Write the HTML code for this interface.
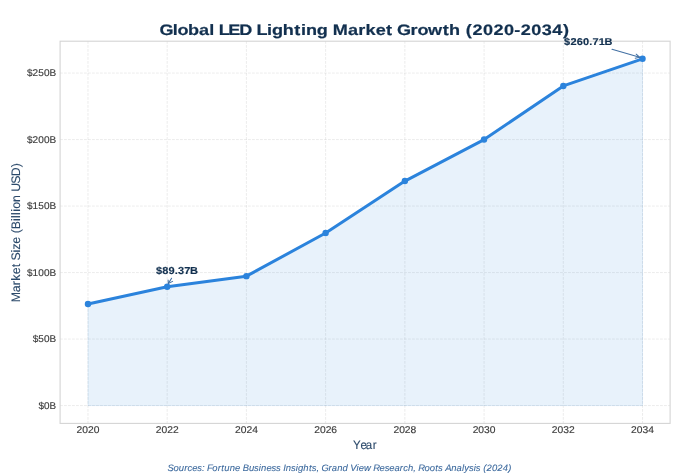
<!DOCTYPE html>
<html><head><meta charset="utf-8"><style>
html,body{margin:0;padding:0;background:#fff;}
svg{display:block;will-change:transform;}
text{font-family:"Liberation Sans",sans-serif;text-rendering:geometricPrecision;}
</style></head><body>
<svg width="680" height="476" viewBox="0 0 680 476">
<rect width="680" height="476" fill="#fff"/>
<g stroke="#b0b0b0" stroke-opacity="0.3" stroke-width="0.8" stroke-dasharray="2.8 1.2"><line x1="87.98" y1="41" x2="87.98" y2="423"/><line x1="167.20" y1="41" x2="167.20" y2="423"/><line x1="246.42" y1="41" x2="246.42" y2="423"/><line x1="325.64" y1="41" x2="325.64" y2="423"/><line x1="404.86" y1="41" x2="404.86" y2="423"/><line x1="484.08" y1="41" x2="484.08" y2="423"/><line x1="563.30" y1="41" x2="563.30" y2="423"/><line x1="642.52" y1="41" x2="642.52" y2="423"/><line x1="60" y1="405.55" x2="670" y2="405.55"/><line x1="60" y1="339.05" x2="670" y2="339.05"/><line x1="60" y1="272.55" x2="670" y2="272.55"/><line x1="60" y1="206.05" x2="670" y2="206.05"/><line x1="60" y1="139.55" x2="670" y2="139.55"/><line x1="60" y1="73.05" x2="670" y2="73.05"/></g>
<path d="M87.98,405.55 L87.98,304.07 L167.20,286.69 L246.42,276.14 L325.64,233.05 L404.86,181.05 L484.08,139.55 L563.30,85.95 L642.52,58.81 L642.52,405.55 Z" fill="#2e86de" fill-opacity="0.11" stroke="#2e86de" stroke-opacity="0.11" stroke-width="1"/>
<rect x="60.1" y="41.2" width="610" height="382.2" fill="none" stroke="#d4d4d4" stroke-width="1.1"/>
<polyline points="87.98,304.07 167.20,286.69 246.42,276.14 325.64,233.05 404.86,181.05 484.08,139.55 563.30,85.95 642.52,58.81" fill="none" stroke="#2b83dc" stroke-width="3" stroke-linejoin="round" stroke-linecap="round"/>
<g fill="#2b83dc"><circle cx="87.98" cy="304.07" r="3.2"/><circle cx="167.20" cy="286.69" r="3.2"/><circle cx="246.42" cy="276.14" r="3.2"/><circle cx="325.64" cy="233.05" r="3.2"/><circle cx="404.86" cy="181.05" r="3.2"/><circle cx="484.08" cy="139.55" r="3.2"/><circle cx="563.30" cy="85.95" r="3.2"/><circle cx="642.52" cy="58.81" r="3.2"/></g>
<text transform="translate(76.53,433.30) scale(1.0495,1)" x="0.00 5.46 10.91 16.37" y="0" font-size="9.81" font-weight="normal" font-style="normal" fill="#3a3a3a" stroke="#3a3a3a" stroke-width="0.15" >2020</text><text transform="translate(155.75,433.30) scale(1.0495,1)" x="0.00 5.46 10.91 16.37" y="0" font-size="9.81" font-weight="normal" font-style="normal" fill="#3a3a3a" stroke="#3a3a3a" stroke-width="0.15" >2022</text><text transform="translate(234.97,433.30) scale(1.0495,1)" x="0.00 5.46 10.91 16.37" y="0" font-size="9.81" font-weight="normal" font-style="normal" fill="#3a3a3a" stroke="#3a3a3a" stroke-width="0.15" >2024</text><text transform="translate(314.19,433.30) scale(1.0495,1)" x="0.00 5.46 10.91 16.37" y="0" font-size="9.81" font-weight="normal" font-style="normal" fill="#3a3a3a" stroke="#3a3a3a" stroke-width="0.15" >2026</text><text transform="translate(393.41,433.30) scale(1.0495,1)" x="0.00 5.46 10.91 16.37" y="0" font-size="9.81" font-weight="normal" font-style="normal" fill="#3a3a3a" stroke="#3a3a3a" stroke-width="0.15" >2028</text><text transform="translate(472.63,433.30) scale(1.0495,1)" x="0.00 5.46 10.91 16.37" y="0" font-size="9.81" font-weight="normal" font-style="normal" fill="#3a3a3a" stroke="#3a3a3a" stroke-width="0.15" >2030</text><text transform="translate(551.85,433.30) scale(1.0495,1)" x="0.00 5.46 10.91 16.37" y="0" font-size="9.81" font-weight="normal" font-style="normal" fill="#3a3a3a" stroke="#3a3a3a" stroke-width="0.15" >2032</text><text transform="translate(631.07,433.30) scale(1.0495,1)" x="0.00 5.46 10.91 16.37" y="0" font-size="9.81" font-weight="normal" font-style="normal" fill="#3a3a3a" stroke="#3a3a3a" stroke-width="0.15" >2034</text><text transform="translate(38.27,408.95) scale(1.0098,1)" x="0.11 5.78 11.13" y="0" font-size="9.81" font-weight="normal" font-style="normal" fill="#3a3a3a" stroke="#3a3a3a" stroke-width="0.15" >$0B</text><text transform="translate(32.55,342.45) scale(1.0193,1)" x="0.08 5.70 11.32 16.61" y="0" font-size="9.81" font-weight="normal" font-style="normal" fill="#3a3a3a" stroke="#3a3a3a" stroke-width="0.15" >$50B</text><text transform="translate(26.82,275.95) scale(1.0251,1)" x="0.07 5.65 11.24 16.82 22.08" y="0" font-size="9.81" font-weight="normal" font-style="normal" fill="#3a3a3a" stroke="#3a3a3a" stroke-width="0.15" >$100B</text><text transform="translate(26.82,209.45) scale(1.0251,1)" x="0.07 5.65 11.24 16.82 22.08" y="0" font-size="9.81" font-weight="normal" font-style="normal" fill="#3a3a3a" stroke="#3a3a3a" stroke-width="0.15" >$150B</text><text transform="translate(26.82,142.95) scale(1.0251,1)" x="0.07 5.65 11.24 16.82 22.08" y="0" font-size="9.81" font-weight="normal" font-style="normal" fill="#3a3a3a" stroke="#3a3a3a" stroke-width="0.15" >$200B</text><text transform="translate(26.82,76.45) scale(1.0251,1)" x="0.07 5.65 11.24 16.82 22.08" y="0" font-size="9.81" font-weight="normal" font-style="normal" fill="#3a3a3a" stroke="#3a3a3a" stroke-width="0.15" >$250B</text>
<text transform="translate(160.20,35.30) scale(1.1983,1)" x="-0.70 10.41 14.38 23.22 32.39 40.91 45.26 48.95 56.85 65.97 76.74 80.44 89.13 93.28 102.28 111.87 117.46 121.59 130.59 139.81 144.08 156.69 165.31 171.35 179.81 188.44 194.06 197.65 208.87 214.63 223.52 235.71 241.11 250.30 254.96 260.54 269.30 278.07 286.84 295.52 300.84 309.61 318.37 327.14 336.09" y="0" font-size="15.10" font-weight="bold" font-style="normal" fill="#12304f" stroke="#12304f" stroke-width="0.2" >Global LED Lighting Market Growth (2020-2034)</text>
<text transform="translate(353.56,448.80) scale(0.9356,1)" x="-0.52 7.37 13.03 20.42" y="0" font-size="12.32" font-weight="normal" font-style="normal" fill="#2c4a6b" stroke="#2c4a6b" stroke-width="0.12" >Year</text>
<text transform="translate(19.60,232.50) rotate(-90) translate(-69.46,0) scale(0.9996,1)" x="-0.30 9.67 16.78 21.30 27.65 34.61 38.58 41.52 49.38 52.16 58.20 65.14 68.77 72.74 80.88 83.99 87.11 90.22 93.15 100.12 107.17 110.31 118.31 125.84 134.74" y="0" font-size="12.32" font-weight="normal" font-style="normal" fill="#2c4a6b" stroke="#2c4a6b" stroke-width="0.12" >Market Size (Billion USD)</text>
<text transform="translate(168.02,471.20) scale(1.0195,1)" x="-0.44 5.27 10.46 15.85 19.08 23.68 28.67 33.28 36.01 38.19 43.39 48.69 52.29 55.28 60.56 65.77 70.95 73.33 79.35 84.42 89.04 91.29 96.50 101.49 105.84 110.36 112.92 115.50 120.57 125.19 127.45 132.74 138.30 141.08 145.61 148.26 150.49 157.50 160.73 165.93 171.22 176.48 178.85 184.92 187.10 192.30 199.10 201.26 207.49 212.49 216.96 222.08 227.38 230.62 235.29 240.55 243.20 245.36 251.58 256.68 262.15 264.93 269.45 271.83 277.84 283.03 288.29 290.63 295.27 299.89 301.93 306.45 309.15 312.40 317.70 323.00 328.31 333.62" y="0" font-size="9.27" font-weight="normal" font-style="italic" fill="#3d6a9e" stroke="#3d6a9e" stroke-width="0.08" >Sources: Fortune Business Insights, Grand View Research, Roots Analysis (2024)</text>
<text transform="translate(155.81,273.80) scale(1.0816,1)" x="0.07 5.86 11.65 17.54 20.60 26.39 31.61" y="0" font-size="10.17" font-weight="bold" font-style="normal" fill="#12304f" stroke="#12304f" stroke-width="0.15" >$89.37B</text>
<text transform="translate(564.07,44.50) scale(1.1145,1)" x="0.06 5.68 11.29 16.91 22.63 25.60 31.22 36.28" y="0" font-size="9.90" font-weight="bold" font-style="normal" fill="#12304f" stroke="#12304f" stroke-width="0.15" >$260.71B</text>
<g stroke="#4270a3" stroke-width="1.05" fill="none" stroke-linecap="round" stroke-linejoin="miter">
<path d="M612,49.3 L639.6,57.3"/><path d="M636.2,54.2 L639.6,57.3 L635.2,58.2"/>
<path d="M171.6,278.3 L168.4,283.4"/><path d="M168.1,280.1 L168.4,283.4 L172.6,281.4"/>
</g>
</svg>
</body></html>
